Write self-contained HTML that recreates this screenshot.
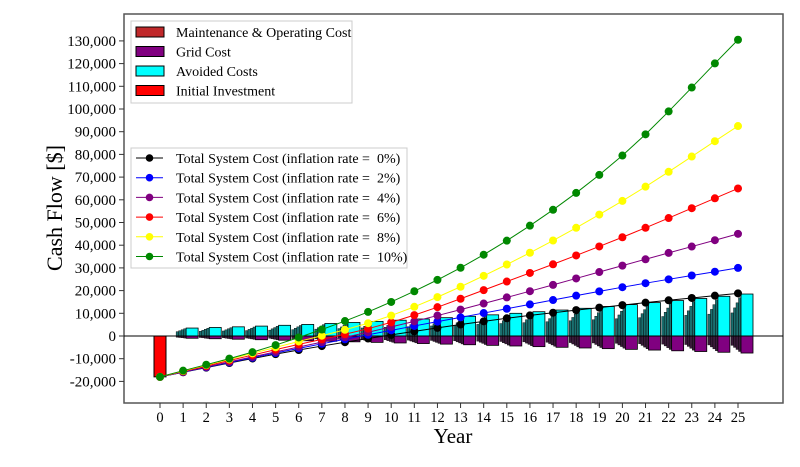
<!DOCTYPE html><html><head><style>body{margin:0;background:#fff}svg{font-family:"Liberation Serif",serif}</style></head><body>
<svg id="s" width="800" height="462" viewBox="0 0 800 462" xmlns="http://www.w3.org/2000/svg"></svg>
<script>
const s=document.getElementById('s');let h='';
const X0=160,DX=23.12,Y0=336,PY=22.7/10000;
const X=n=>X0+n*DX, Y=v=>Y0-v*PY;
h+='<rect x="124" y="14" width="659" height="389" fill="#fff" stroke="#555" stroke-width="1.5"/>';
for(let v=-20000;v<=130000;v+=10000){const y=Y(v);h+=`<line x1="119" x2="124" y1="${y}" y2="${y}" stroke="#333"/><text x="116" y="${y+5}" text-anchor="end" font-size="15">${v.toLocaleString('en-US')}</text>`;}
for(let n=0;n<=25;n++){const x=X(n);h+=`<line x1="${x}" x2="${x}" y1="403" y2="408" stroke="#333"/><text x="${x}" y="422" text-anchor="middle" font-size="14.5">${n}</text>`;}
h+=`<text x="453" y="443" text-anchor="middle" font-size="21">Year</text>`;
h+=`<text transform="translate(62,208) rotate(-90)" text-anchor="middle" font-size="22">Cash Flow [$]</text>`;
h+=`<rect x="${X(0)-6}" y="${Y(0)}" width="12" height="${Y(-18000)-Y(0)}" fill="#f00" stroke="#000"/>`;
for(let n=1;n<=25;n++){const x=X(n);const m=n-1;const a=3500+239*m+16.07*m*m;const g=1000+203.8*m+2.8*m*m;
for(let k=0;k<4;k++){const f=0.55+0.12*k;h+=`<rect x="${x-7+k*2.5}" y="${Y(a*f)}" width="2.5" height="${Y(0)-Y(a*f)}" fill="#1a7070" stroke="#000" stroke-width="0.4"/>`;
h+=`<rect x="${x-7+k*2.5}" y="${Y0}" width="2.5" height="${Y(-g*f)-Y0}" fill="#3a1a3a" stroke="#000" stroke-width="0.4"/>`;}
h+=`<rect x="${x+3}" y="${Y(a)}" width="12" height="${Y(0)-Y(a)}" fill="#00ffff" stroke="#000" stroke-width="0.8"/>`;
h+=`<rect x="${x+3}" y="${Y0}" width="12" height="${Y(-g)-Y0}" fill="#800080" stroke="#000" stroke-width="0.8"/>`;}
h+=`<line x1="124" x2="783" y1="${Y0}" y2="${Y0}" stroke="#000"/>`;
const rates=[[0,'#000',[-18000,-8000,500,7800,13600,18800]],[2,'#00f',[-18000,-7500,2500,12000,21500,30000]],[4,'#800080',[-18000,-7000,4000,17000,31000,45000]],[6,'#f00',[-18000,-6000,6000,24000,43500,65000]],[8,'#ff0',[-18000,-5000,9000,31500,59500,92500]],[10,'#080',[-18000,-4000,15000,42000,79500,130500]]];
function interp(a,n){const i=Math.min(4,Math.floor(n/5)),t=(n-i*5)/5;const p0=i>0?a[i-1]:2*a[0]-a[1],p1=a[i],p2=a[i+1],p3=i+2<6?a[i+2]:2*a[5]-a[4];
return 0.5*((2*p1)+(-p0+p2)*t+(2*p0-5*p1+4*p2-p3)*t*t+(-p0+3*p1-3*p2+p3)*t*t*t);}
for(const [r,c,an] of rates){let pts=[];for(let n=0;n<=25;n++)pts.push([X(n),Y(interp(an,n))]);
h+=`<polyline points="${pts.map(p=>p.join(',')).join(' ')}" fill="none" stroke="${c}" stroke-width="1"/>`;
pts.forEach(p=>h+=`<circle cx="${p[0]}" cy="${p[1]}" r="4" fill="${c}"/>`);}
h+=`<rect x="131" y="21" width="221" height="82" fill="#fff" fill-opacity="0.85" stroke="#ccc"/>`;
[['#c0282a','Maintenance &amp; Operating Cost'],['#800080','Grid Cost'],['#00ffff','Avoided Costs'],['#ff0000','Initial Investment']].forEach((e,i)=>{const y=32+i*19.5;h+=`<rect x="136" y="${y-5}" width="28" height="10" fill="${e[0]}" stroke="#000"/><text x="176" y="${y+5}" font-size="14">${e[1]}</text>`;});
h+=`<rect x="131" y="148" width="276" height="120" fill="#fff" fill-opacity="0.85" stroke="#ccc"/>`;
rates.forEach((e,i)=>{const y=158+i*19.7;h+=`<line x1="136" x2="163" y1="${y}" y2="${y}" stroke="${e[1]}"/><circle cx="149.5" cy="${y}" r="3.8" fill="${e[1]}"/><text x="176" y="${y+5}" font-size="14" xml:space="preserve">Total System Cost (inflation rate =  ${e[0]}%)</text>`;});
s.innerHTML=h;
</script></body></html>
